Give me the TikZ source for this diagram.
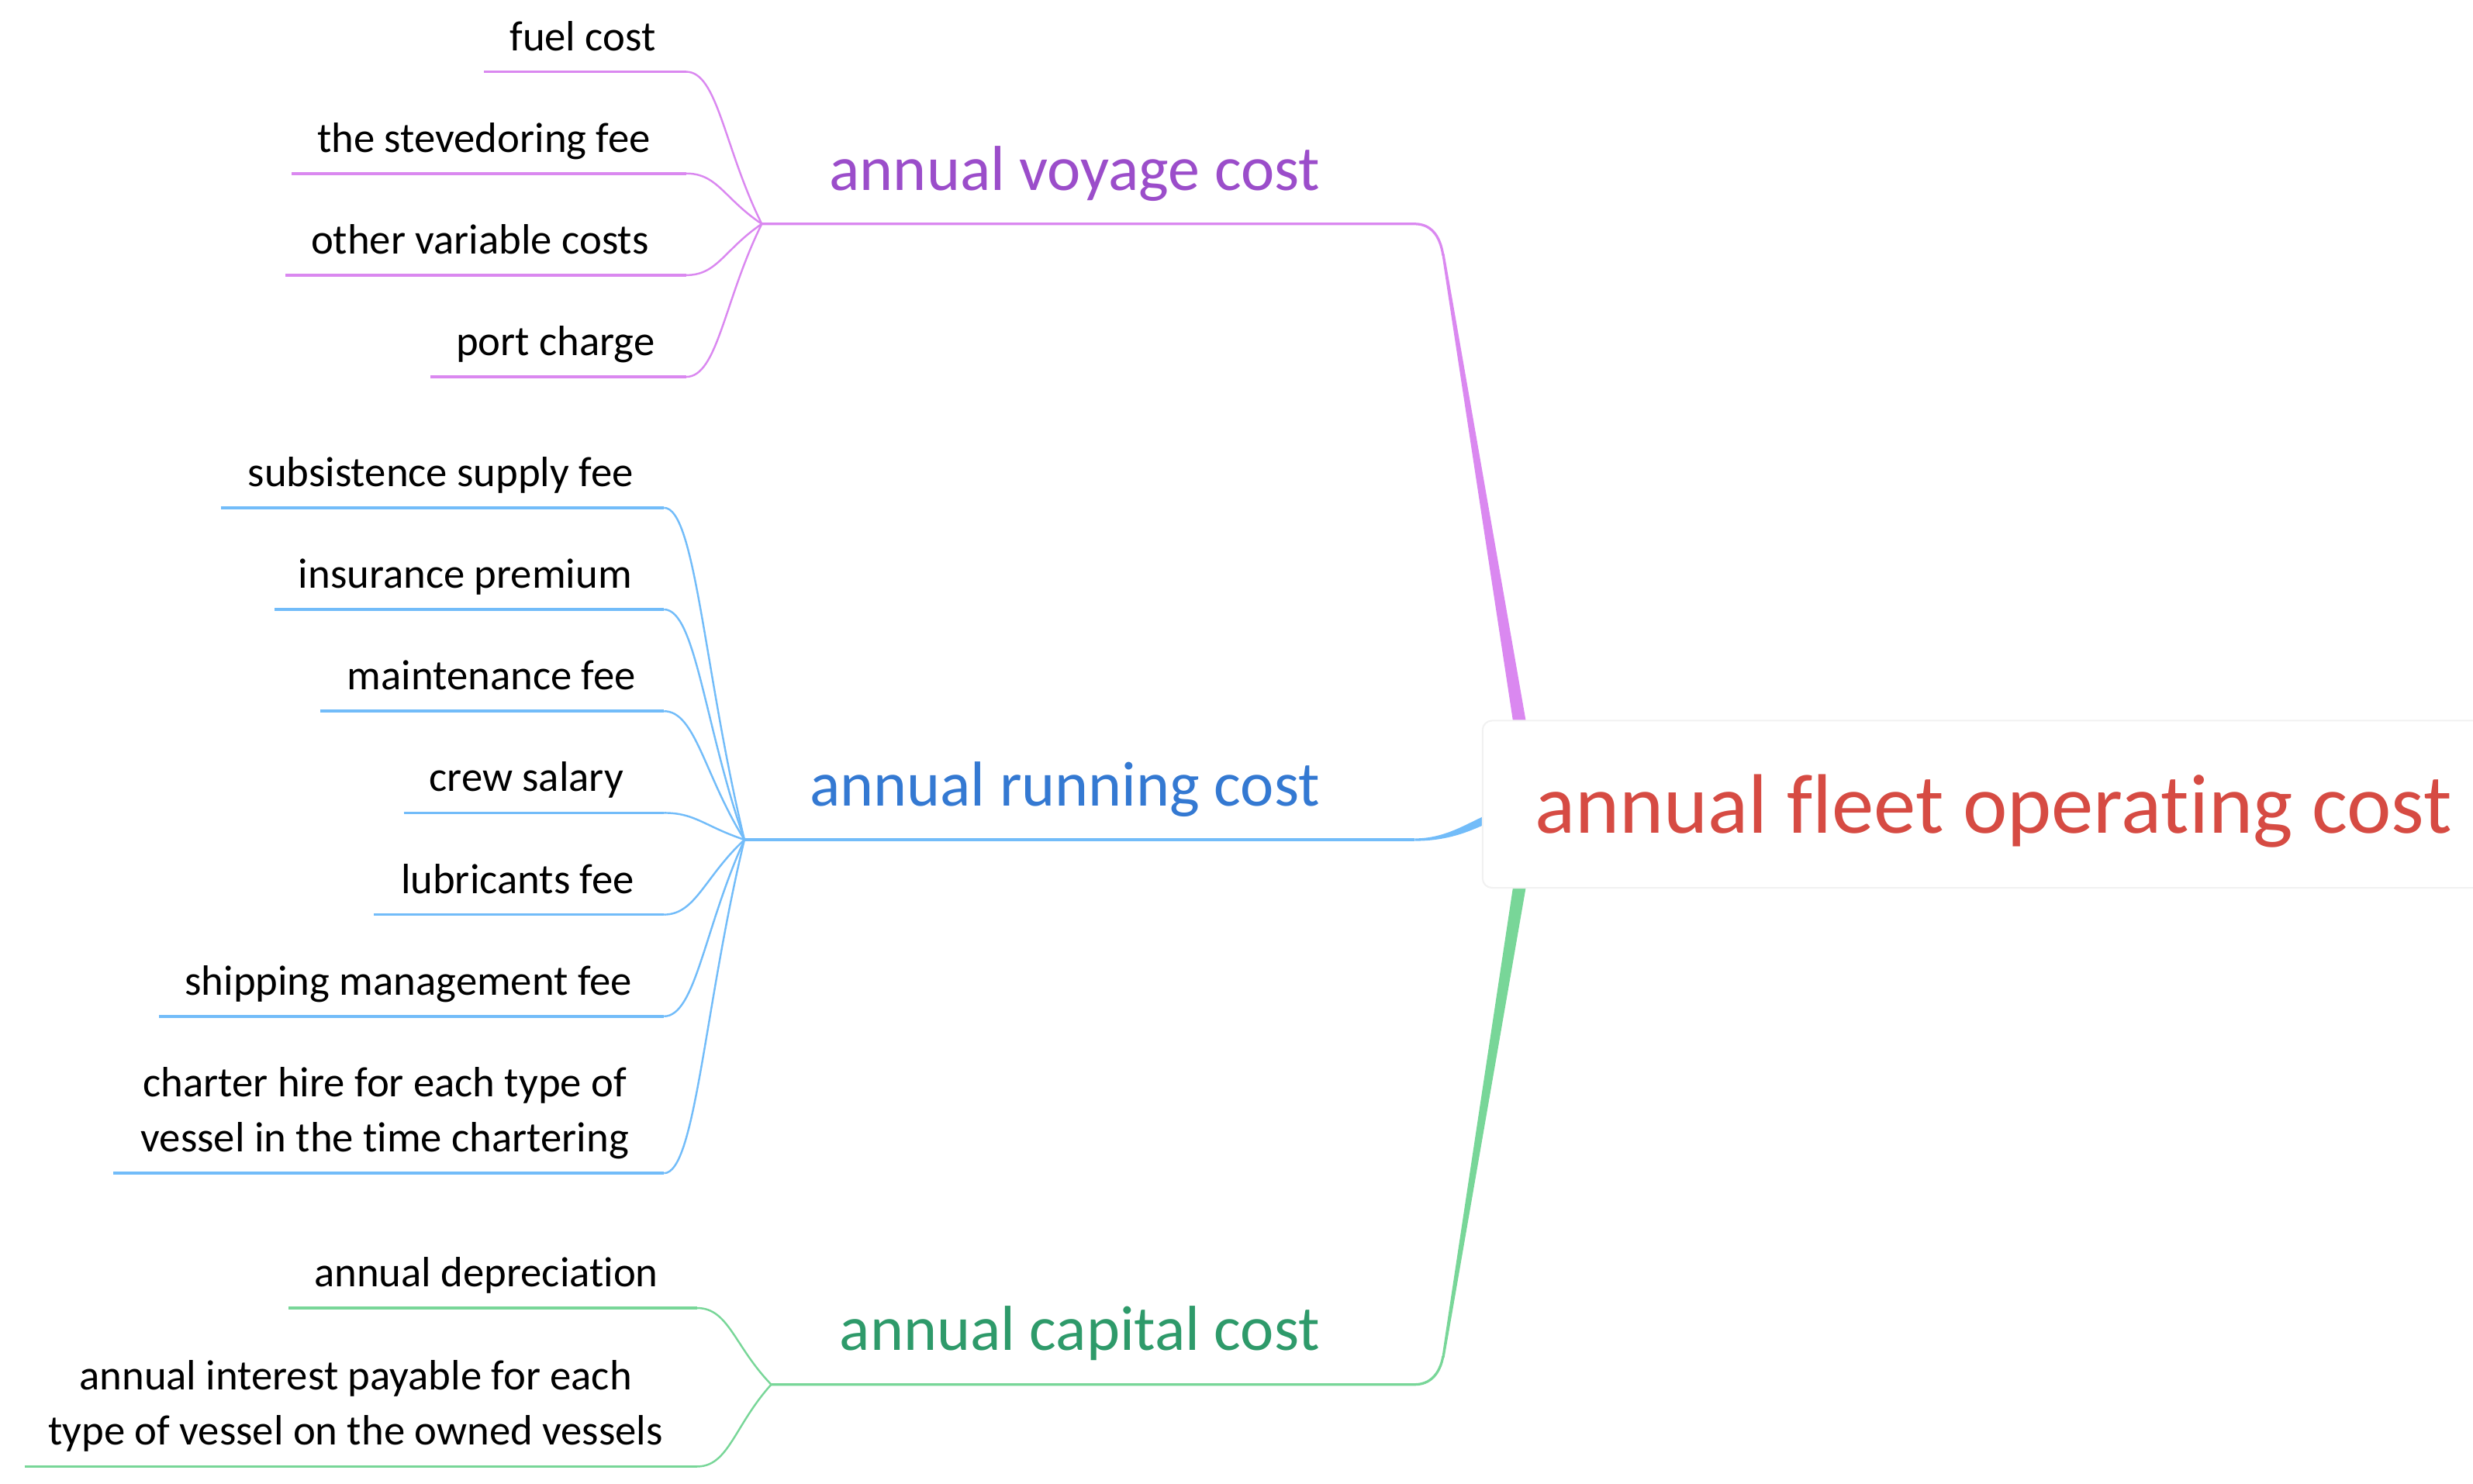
\documentclass[tikz,border=0pt]{standalone}
\usepackage{fontspec}
\setmainfont{Carlito}[Ligatures=NoCommon]
\usetikzlibrary{calc}
\definecolor{voyline}{HTML}{DA88F0}
\definecolor{voytext}{HTML}{9B4DCA}
\definecolor{runline}{HTML}{72BCF9}
\definecolor{runtext}{HTML}{3479D2}
\definecolor{capline}{HTML}{78D698}
\definecolor{captext}{HTML}{2E9A6A}
\definecolor{roottext}{HTML}{D64B43}
\definecolor{boxline}{HTML}{F1F1F1}
\tikzset{
  leaf/.style={anchor=base west, inner sep=0pt, font=\fontsize{26.9}{35}\selectfont, text=black},
  leaftwo/.style={anchor=base, inner sep=0pt, align=center, font=\fontsize{26.9}{35}\selectfont, text=black},
  branchlbl/.style={anchor=base east, inner sep=0pt, font=\fontsize{40.3}{48}\selectfont},
  ul/.style={line width=1.8pt},
  cv/.style={line width=1.2pt},
  brline/.style={line width=1.6pt},
}
\newcommand{\leafcurve}[3]{\draw[cv,#1] (#2) .. controls ($(#2)+(20,0)$) and ($(#2)!0.5!(#3)$) .. (#3);}
\begin{document}
\begin{tikzpicture}[x=1pt,y=-1pt]
\useasboundingbox (0,0) rectangle (1568,941);
\clip (0,0) rectangle (1568,941);

% junctions
\coordinate (VJ) at (483,142);
\coordinate (RJ) at (472,532.5);
\coordinate (CJ) at (489,878);

% ---------- voyage ----------
\node[leaf] (f1) at (323,32) {fuel cost};
\node[leaf] (f2) at (201,96.5) {the stevedoring fee};
\node[leaf] (f3) at (197,161) {other variable costs};
\node[leaf] (f4) at (289,225.5) {port charge};
\coordinate (f1s) at (307,45.5);  \coordinate (f1e) at (435,45.5);
\coordinate (f2s) at (185,110);   \coordinate (f2e) at (435,110);
\coordinate (f3s) at (181,174.5); \coordinate (f3e) at (435,174.5);
\coordinate (f4s) at (273,239);   \coordinate (f4e) at (435,239);
\foreach \n in {f1,f2,f3,f4}{
  \draw[ul,voyline] (\n s) -- (\n e);
  \leafcurve{voyline}{\n e}{VJ}
}
\node[branchlbl,text=voytext] (voy) at (837,120.5) {annual voyage cost};
\coordinate (VC) at (915,162);
\draw[brline,voyline] (VJ) -- (897,142) .. controls (907,142) and (913,149) .. (VC);

% ---------- running ----------
\node[leaf] (r1) at (157,308.5) {subsistence supply fee};
\node[leaf] (r2) at (189,373) {insurance premium};
\node[leaf] (r3) at (220,437.5) {maintenance fee};
\node[leaf] (r4) at (272,502) {crew salary};
\node[leaf] (r5) at (254,566.5) {lubricants fee};
\node[leaf] (r6) at (117,631) {shipping management fee};
\node[leaftwo] (r7) at (244,730.5) {charter hire for each type of\\vessel in the time chartering};
\coordinate (r1s) at (140,322);   \coordinate (r1e) at (421,322);
\coordinate (r2s) at (174,386.5); \coordinate (r2e) at (421,386.5);
\coordinate (r3s) at (203,451);   \coordinate (r3e) at (421,451);
\coordinate (r4s) at (256,515.5); \coordinate (r4e) at (421,515.5);
\coordinate (r5s) at (237,580);   \coordinate (r5e) at (421,580);
\coordinate (r6s) at (101,644.5); \coordinate (r6e) at (421,644.5);
\coordinate (r7s) at (72,744);    \coordinate (r7e) at (421,744);
\foreach \n in {r1,r2,r3,r4,r5,r6,r7}{
  \draw[ul,runline] (\n s) -- (\n e);
  \leafcurve{runline}{\n e}{RJ}
}
\node[branchlbl,text=runtext] (run) at (837,511) {annual running cost};
\draw[brline,runline] (RJ) -- (897,532.5);
\fill[runline] (897,531.7) .. controls (915,531.7) and (927,524) .. (941,517.5)
   -- (941,523) .. controls (928,529) and (915,533.3) .. (897,533.3) -- cycle;

% ---------- capital ----------
\node[leaf] (c1) at (199,816) {annual depreciation};
\node[leaftwo] (c2) at (225.5,916.5) {annual interest payable for each\\type of vessel on the owned vessels};
\coordinate (c1s) at (183,829.5); \coordinate (c1e) at (442,829.5);
\coordinate (c2s) at (15.5,930);  \coordinate (c2e) at (442,930);
\foreach \n in {c1,c2}{
  \draw[ul,capline] (\n s) -- (\n e);
  \leafcurve{capline}{\n e}{CJ}
}
\node[branchlbl,text=captext] (cap) at (837,856.5) {annual capital cost};
\coordinate (CC) at (915,860);
\draw[brline,capline] (CJ) -- (897,878) .. controls (907,878) and (913,871) .. (CC);

% ---------- tapered trunks ----------
\fill[voyline] (914.2,161) -- (915.8,161) -- (967.6,458) -- (959.4,458) -- cycle;
\fill[capline] (914.2,861) -- (915.8,861) -- (967.6,562) -- (959.4,562) -- cycle;

% ---------- root ----------
\draw[boxline, fill=white, line width=1pt, rounded corners=6] (940,457) rectangle (1620,563);
\node[anchor=base west, inner sep=0pt, font=\fontsize{53.5}{60}\selectfont, text=roottext] (root) at (973,528.5) {annual fleet operating cost};
\end{tikzpicture}
\end{document}
